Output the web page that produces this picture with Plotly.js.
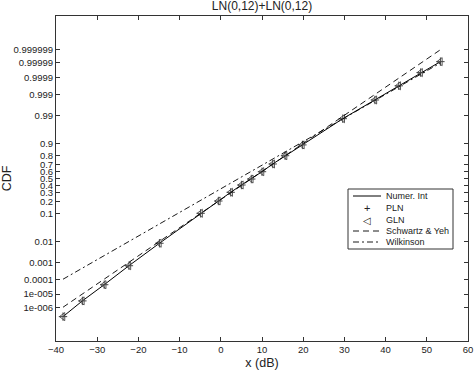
<!DOCTYPE html>
<html><head><meta charset="utf-8">
<script src="https://cdn.plot.ly/plotly-3.0.1.min.js"></script>
<style>html,body{margin:0;padding:0;background:#fff}#chart{width:474px;height:370px}</style>
</head><body><div id="chart"></div>
<script>
// ---- data (x in dB, values are CDF probabilities) ----
const xMarkers = [-38.3,-33.6,-28.3,-22.3,-14.9,-4.9,-0.6,2.4,5.0,7.4,10.0,12.6,15.6,19.8,29.6,37.4,43.2,48.5,53.3];
const cdfNumInt = [1.7e-7,3.1e-6,4.4e-5,6.4e-4,0.0084,0.0994,0.203,0.305,0.405,0.492,0.599,0.704,0.80,0.8925,0.9864,0.99813,0.99969,0.999954,0.999992];
const cdfPLN = [1.7e-7,3.1e-6,4.4e-5,6.4e-4,0.0084,0.0994,0.203,0.305,0.405,0.492,0.599,0.704,0.80,0.8925,0.9864,0.99813,0.99969,0.999954,0.999992];
const cdfGLN = [1.7e-7,3.1e-6,4.4e-5,6.4e-4,0.0084,0.0994,0.203,0.305,0.405,0.492,0.599,0.704,0.80,0.8925,0.9864,0.99813,0.99969,0.999954,0.999992];
const xSchwartz = [-38.3, 10.0, 53.3];
const cdfSchwartz = [1e-6, 0.6, 0.999999];
const xWilkinson = [-38.3, 8.4, 53.3];
const cdfWilkinson = [1e-4, 0.633, 0.99999];
const yTickProbs = [1e-6,1e-5,1e-4,1e-3,0.01,0.1,0.2,0.3,0.4,0.5,0.6,0.7,0.8,0.9,0.99,0.999,0.9999,0.99999,0.999999];
const yTickLabels = ['1e-006','1e-005','0.0001','0.001','0.01','0.1','0.2','0.3','0.4','0.5','0.6','0.7','0.8','0.9','0.99','0.999','0.9999','0.99999','0.999999'];
const xTicks = [-40,-30,-20,-10,0,10,20,30,40,50,60];
const legendNames = ['Numer. Int','PLN','GLN','Schwartz & Yeh','Wilkinson'];

// inverse standard normal CDF (Acklam) -> probit axis
function probit(p){
  const a=[-3.969683028665376e+01,2.209460984245205e+02,-2.759285104469687e+02,1.383577518672690e+02,-3.066479806614716e+01,2.506628277459239e+00];
  const b=[-5.447609879822406e+01,1.615858368580409e+02,-1.556989798598866e+02,6.680131188771972e+01,-1.328068155288572e+01];
  const c=[-7.784894002430293e-03,-3.223964580411365e-01,-2.400758277161838e+00,-2.549732539343734e+00,4.374664141464968e+00,2.938163982698783e+00];
  const d=[7.784695709041462e-03,3.224671290700398e-01,2.445134137142996e+00,3.754408661907416e+00];
  const pl=0.02425;
  let q,r;
  if(p<pl){q=Math.sqrt(-2*Math.log(p));return (((((c[0]*q+c[1])*q+c[2])*q+c[3])*q+c[4])*q+c[5])/((((d[0]*q+d[1])*q+d[2])*q+d[3])*q+1);}
  if(p<=1-pl){q=p-0.5;r=q*q;return (((((a[0]*r+a[1])*r+a[2])*r+a[3])*r+a[4])*r+a[5])*q/(((((b[0]*r+b[1])*r+b[2])*r+b[3])*r+b[4])*r+1);}
  q=Math.sqrt(-2*Math.log(1-p));return -(((((c[0]*q+c[1])*q+c[2])*q+c[3])*q+c[4])*q+c[5])/((((d[0]*q+d[1])*q+d[2])*q+d[3])*q+1);
}
const Z = arr => arr.map(probit);

const FONT = 'Liberation Sans, Arial, sans-serif';
const INK = '#222';

const traces = [
  {x:xMarkers, y:Z(cdfNumInt), name:legendNames[0], mode:'lines', line:{color:'#000', width:1}, showlegend:false},
  {x:xMarkers, y:Z(cdfPLN), name:legendNames[1], mode:'markers', marker:{symbol:'cross-thin', size:6, line:{color:'#444', width:1}}, showlegend:false},
  {x:xMarkers, y:Z(cdfGLN), name:legendNames[2], mode:'markers', marker:{symbol:'triangle-left-open', size:7, color:'#444', line:{width:0.9}}, showlegend:false},
  {x:xSchwartz, y:Z(cdfSchwartz), name:legendNames[3], mode:'lines', line:{color:'#000', width:0.9, dash:'6px,4px'}, showlegend:false},
  {x:xWilkinson, y:Z(cdfWilkinson), name:legendNames[4], mode:'lines', line:{color:'#000', width:0.9, dash:'6px,3px,2px,3px'}, showlegend:false}
];

// legend (pixel -> paper helpers)
const L=56, T=16, W=412, H=325;
const px = v => (v-L)/W, py = v => (T+H-v)/H;
const rows=[196,208,220,231,242];
const shapes = [
  {type:'rect', xref:'paper', yref:'paper', x0:px(348), x1:px(453), y0:py(189), y1:py(249), line:{color:'#333', width:1}, fillcolor:'#fff', layer:'above'},
  {type:'line', xref:'paper', yref:'paper', x0:px(353), x1:px(381), y0:py(rows[0]), y1:py(rows[0]), line:{color:'#000', width:1}},
  {type:'line', xref:'paper', yref:'paper', x0:px(353), x1:px(381), y0:py(rows[3]), y1:py(rows[3]), line:{color:'#000', width:0.9, dash:'6px,4px'}},
  {type:'line', xref:'paper', yref:'paper', x0:px(353), x1:px(381), y0:py(rows[4]), y1:py(rows[4]), line:{color:'#000', width:0.9, dash:'6px,3px,2px,3px'}}
];
const annotations = legendNames.map((n,i)=>({xref:'paper', yref:'paper', x:px(384), y:py(rows[i]), xanchor:'left', yanchor:'middle', text:n, showarrow:false, font:{family:FONT, size:9, color:INK}}));
annotations.push({xref:'paper', yref:'paper', x:px(367), y:py(rows[1]), xanchor:'center', yanchor:'middle', text:'+', showarrow:false, font:{family:FONT, size:11, color:INK}});
annotations.push({xref:'paper', yref:'paper', x:px(367), y:py(rows[2]), xanchor:'center', yanchor:'middle', text:'◁', showarrow:false, font:{family:'DejaVu Sans', size:10, color:INK}});

const layout = {
  width:474, height:370,
  margin:{l:L, r:474-L-W, t:T, b:370-T-H},
  paper_bgcolor:'#fff', plot_bgcolor:'#fff',
  font:{family:FONT, color:INK, size:9.5},
  showlegend:false,
  title:{text:'LN(0,12)+LN(0,12)', x:(L+W/2)/474, xanchor:'center', xref:'container', y:1-6/370, yref:'container', yanchor:'middle', font:{family:FONT, size:12, color:INK}},
  xaxis:{range:[-40,60], tickvals:xTicks, ticks:'inside', ticklen:4, tickcolor:'#333', showline:true, linecolor:'#333', linewidth:1, mirror:'ticks', showgrid:false, zeroline:false, automargin:false,
    tickfont:{family:FONT, size:9.5, color:INK}, title:{text:'x (dB)', standoff:3, font:{family:FONT, size:12.5, color:INK}}},
  yaxis:{range:[-6,6], tickvals:Z(yTickProbs), ticktext:yTickLabels, ticks:'inside', ticklen:4, tickcolor:'#333', showline:true, linecolor:'#333', linewidth:1, mirror:'ticks', showgrid:false, zeroline:false, automargin:false,
    tickfont:{family:FONT, size:9.5, color:INK}, title:{text:'CDF', standoff:2, font:{family:FONT, size:12.5, color:INK}}},
  shapes:shapes, annotations:annotations
};
Plotly.newPlot('chart', traces, layout, {staticPlot:true, displayModeBar:false});
</script></body></html>
